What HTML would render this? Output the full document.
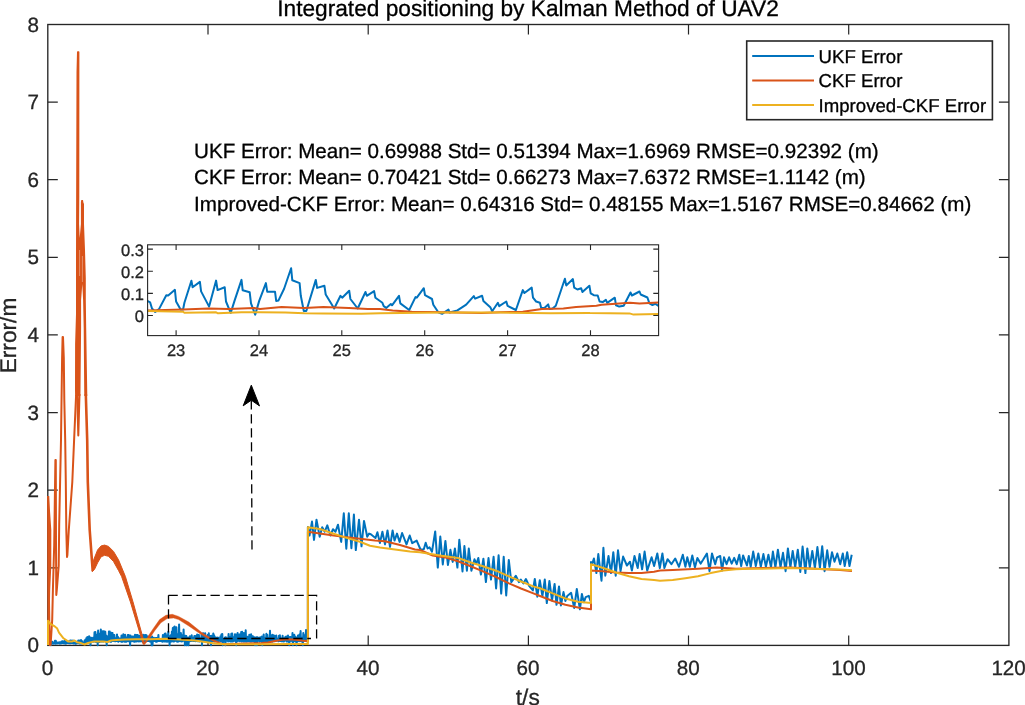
<!DOCTYPE html>
<html><head><meta charset="utf-8"><title>Integrated positioning by Kalman Method of UAV2</title>
<style>html,body{margin:0;padding:0;background:#fff;overflow:hidden}svg{display:block}</style></head>
<body>
<svg width="1025" height="705" viewBox="0 0 1025 705" font-family="'Liberation Sans', Arial, Helvetica, sans-serif" text-rendering="geometricPrecision">
<rect width="1025" height="705" fill="#fff"/>
<rect x="47.8" y="24.5" width="961.1" height="620.9" fill="none" stroke="#262626" stroke-width="1.35"/>
<path d="M208.0 645.4V635.4 M208.0 24.5V34.5 M368.2 645.4V635.4 M368.2 24.5V34.5 M528.4 645.4V635.4 M528.4 24.5V34.5 M688.5 645.4V635.4 M688.5 24.5V34.5 M848.7 645.4V635.4 M848.7 24.5V34.5 M47.8 567.8H57.8 M1008.9 567.8H998.9 M47.8 490.2H57.8 M1008.9 490.2H998.9 M47.8 412.6H57.8 M1008.9 412.6H998.9 M47.8 334.9H57.8 M1008.9 334.9H998.9 M47.8 257.3H57.8 M1008.9 257.3H998.9 M47.8 179.7H57.8 M1008.9 179.7H998.9 M47.8 102.1H57.8 M1008.9 102.1H998.9" stroke="#262626" stroke-width="1.2" fill="none"/>
<polyline fill="none" stroke="#0072BD" stroke-width="2" stroke-linejoin="round" points="48.6,641.1 49.1,643.6 49.5,641.3 50.0,643.3 50.4,641.3 50.9,645.2 51.3,642.0 51.8,643.7 52.2,641.8 52.7,643.4 53.1,642.5 53.6,643.6 54.0,642.5 54.5,643.2 54.9,640.8 55.4,643.8 55.8,640.8 56.3,643.5 56.7,642.6 57.2,643.5 57.6,642.5 58.1,643.2 58.5,642.5 59.0,643.3 59.4,642.2 59.9,643.6 60.3,642.8 60.8,643.4 61.2,641.7 61.7,643.3 62.1,641.3 62.6,643.1 63.0,641.3 63.5,643.3 63.9,641.7 64.4,643.1 64.8,640.8 65.3,643.7 65.7,641.2 66.2,643.6 66.6,641.2 67.1,643.1 67.5,642.7 68.0,642.9 68.4,641.5 68.9,643.1 69.3,641.5 69.8,643.3 70.2,640.6 70.7,643.3 71.1,640.6 71.6,643.1 72.0,642.6 72.5,643.0 72.9,640.4 73.4,643.4 73.8,642.6 74.3,643.3 74.7,642.6 75.2,643.7 75.6,642.4 76.1,643.6 76.5,642.3 77.0,642.9 77.4,641.5 77.9,643.3 78.3,640.5 78.8,642.9 79.2,640.5 79.7,643.4 80.1,641.5 80.6,643.6 81.0,639.9 81.5,643.6 81.9,641.1 82.4,643.2 82.8,642.4 83.3,643.4 83.7,642.3 84.2,642.8 84.6,640.5 85.1,643.3 85.5,639.5 86.0,643.4 86.4,638.1 86.9,642.3 87.3,637.0 87.8,642.4 88.2,638.1 88.7,642.4 89.1,636.2 89.6,642.0 90.0,637.3 90.5,645.2 90.9,638.1 91.4,641.9 91.8,637.8 92.3,641.1 92.7,638.5 93.2,641.7 93.6,637.6 94.1,641.6 94.5,632.3 95.0,641.0 95.4,632.1 95.9,641.9 96.3,634.6 96.8,641.7 97.2,635.6 97.7,645.2 98.1,630.5 98.6,641.5 99.0,633.6 99.5,642.0 99.9,633.4 100.4,641.1 100.8,629.4 101.3,641.6 101.7,635.5 102.2,641.2 102.6,631.2 103.1,641.6 103.5,631.2 104.0,641.0 104.4,631.4 104.9,641.1 105.3,631.7 105.8,641.7 106.2,635.5 106.7,645.2 107.1,636.2 107.6,641.7 108.0,636.3 108.5,641.5 108.9,631.5 109.4,641.0 109.8,631.5 110.3,641.7 110.7,637.3 111.2,641.7 111.6,632.7 112.1,641.1 112.5,632.9 113.0,641.1 113.4,634.7 113.9,641.0 114.3,634.9 114.8,641.2 115.2,638.0 115.7,641.2 116.1,638.0 116.6,641.0 117.0,634.4 117.5,641.0 117.9,636.8 118.4,641.8 118.8,638.3 119.3,641.0 119.7,638.4 120.2,641.1 120.6,638.4 121.1,641.6 121.5,635.6 122.0,641.9 122.4,638.6 122.9,641.3 123.3,634.2 123.8,641.5 124.2,634.9 124.7,641.7 125.1,634.8 125.6,641.7 126.0,637.2 126.5,641.7 126.9,637.8 127.4,641.0 127.8,634.9 128.3,641.3 128.7,635.0 129.2,641.0 129.6,635.7 130.1,645.2 130.5,635.4 131.0,641.5 131.4,639.0 131.9,641.1 132.3,636.5 132.8,641.2 133.2,636.5 133.7,641.4 134.1,637.4 134.6,641.8 135.0,634.8 135.5,641.6 135.9,634.9 136.4,641.4 136.8,634.9 137.3,641.0 137.7,635.0 138.2,641.4 138.6,635.8 139.1,641.2 139.5,636.3 140.0,641.4 140.4,635.4 140.9,641.0 141.3,635.4 141.8,641.3 142.2,637.9 142.7,641.7 143.1,634.7 143.6,641.4 144.0,638.0 144.5,641.8 144.9,635.0 145.4,641.0 145.8,635.1 146.3,641.2 146.7,635.4 147.2,641.0 147.6,638.1 148.0,640.9 148.5,636.7 148.9,640.9 149.4,636.7 149.8,641.4 150.3,638.5 150.7,641.7 151.2,637.6 151.6,645.2 152.1,636.5 152.5,645.2 153.0,637.7 153.4,641.2 153.9,637.7 154.3,640.9 154.8,639.1 155.2,640.9 155.7,638.1 156.1,641.8 156.6,638.1 157.0,641.7 157.5,638.1 157.9,641.0 158.4,634.9 158.8,640.9 159.3,638.7 159.7,641.1 160.2,639.2 160.6,641.1 161.1,639.0 161.5,640.9 162.0,638.9 162.4,641.8 162.9,634.9 163.3,641.0 163.8,638.8 164.2,641.5 164.7,633.7 165.1,641.6 165.6,633.5 166.0,641.6 166.5,635.3 166.9,641.8 167.4,637.1 167.8,641.5 168.3,631.7 168.7,641.5 169.2,636.2 169.6,645.2 170.1,635.9 170.5,641.8 171.0,634.9 171.4,641.6 171.9,631.6 172.3,640.9 172.8,628.1 173.2,641.4 173.7,627.2 174.1,641.4 174.6,626.4 175.0,640.8 175.5,627.4 175.9,641.0 176.4,627.2 176.8,641.4 177.3,634.4 177.7,641.7 178.2,633.9 178.6,641.5 179.1,624.4 179.5,641.0 180.0,634.4 180.4,641.1 180.9,633.1 181.3,641.5 181.8,634.9 182.2,641.3 182.7,635.6 183.1,640.8 183.6,629.5 184.0,640.8 184.5,636.3 184.9,645.2 185.4,635.7 185.8,641.3 186.3,636.1 186.7,645.2 187.2,637.7 187.6,641.7 188.1,637.6 188.5,645.2 189.0,637.5 189.4,641.5 189.9,636.2 190.3,641.0 190.8,636.3 191.2,640.9 191.7,635.3 192.1,640.8 192.6,637.5 193.0,641.0 193.5,639.0 193.9,640.9 194.4,635.9 194.8,641.0 195.3,635.9 195.7,641.2 196.2,638.4 196.6,640.9 197.1,634.5 197.5,641.2 198.0,635.1 198.4,641.1 198.9,634.9 199.3,641.6 199.8,638.7 200.2,640.9 200.7,638.2 201.1,641.1 201.6,634.4 202.0,645.2 202.5,633.4 202.9,641.0 203.4,633.3 203.8,641.1 204.3,634.9 204.7,641.5 205.2,633.3 205.6,641.5 206.1,637.0 206.5,641.0 207.0,636.9 207.4,641.3 207.9,634.7 208.3,641.0 208.8,633.3 209.2,641.1 209.7,637.1 210.1,641.5 210.6,635.9 211.0,645.2 211.5,635.8 211.9,641.5 212.4,637.7 212.8,641.0 213.3,633.4 213.7,641.2 214.2,635.3 214.6,641.6 215.1,637.3 215.5,640.7 216.0,637.5 216.4,641.3 216.9,638.8 217.3,640.7 217.8,637.5 218.2,641.5 218.7,637.9 219.1,641.1 219.6,637.9 220.0,640.7 220.5,636.2 220.9,641.2 221.4,634.5 221.8,641.0 222.3,634.1 222.7,645.2 223.2,639.1 223.6,641.2 224.1,639.1 224.5,641.6 225.0,637.4 225.4,645.2 225.9,637.3 226.3,640.9 226.8,638.4 227.2,640.8 227.7,638.4 228.1,641.4 228.6,633.9 229.0,640.7 229.5,636.7 229.9,641.3 230.4,637.2 230.8,641.6 231.3,633.7 231.7,641.4 232.2,633.5 232.6,641.4 233.1,637.0 233.5,641.3 234.0,637.3 234.4,640.8 234.9,634.3 235.3,640.8 235.8,634.7 236.2,645.2 236.7,634.5 237.1,641.2 237.6,633.0 238.0,641.0 238.5,637.8 238.9,640.7 239.4,634.5 239.8,641.3 240.3,634.3 240.7,640.7 241.2,631.9 241.6,641.4 242.1,631.7 242.5,641.3 243.0,635.6 243.4,641.4 243.9,632.9 244.3,641.4 244.8,633.5 245.2,641.2 245.7,630.2 246.1,641.6 246.6,636.9 247.0,641.5 247.5,636.8 247.9,641.1 248.4,637.2 248.8,641.2 249.3,634.8 249.7,641.3 250.2,636.5 250.6,641.6 251.1,634.3 251.5,641.5 252.0,636.1 252.4,640.8 252.9,636.2 253.3,641.4 253.8,638.0 254.2,640.7 254.7,637.2 255.1,645.2 255.6,639.3 256.0,640.9 256.5,637.3 256.9,645.2 257.4,637.3 257.8,640.7 258.3,637.8 258.7,640.8 259.2,638.5 259.6,641.5 260.1,637.3 260.5,640.9 261.0,637.4 261.4,641.0 261.9,636.6 262.3,645.2 262.8,637.3 263.2,640.8 263.7,634.4 264.1,641.0 264.6,638.2 265.0,641.3 265.5,637.9 265.9,641.5 266.4,633.8 266.8,641.0 267.3,634.8 267.7,641.4 268.2,638.2 268.6,641.3 269.1,638.1 269.5,640.9 270.0,630.8 270.4,641.4 270.9,635.0 271.3,640.6 271.8,636.6 272.2,641.6 272.7,634.8 273.1,641.2 273.6,635.4 274.0,640.7 274.5,635.8 274.9,641.2 275.4,639.1 275.8,640.9 276.3,635.4 276.7,640.8 277.2,638.4 277.6,640.6 278.1,638.4 278.5,641.3 279.0,635.7 279.4,640.8 279.9,635.3 280.3,641.1 280.8,638.6 281.2,641.1 281.7,638.7 282.1,641.4 282.6,635.8 283.0,640.6 283.5,638.8 283.9,641.5 284.4,638.2 284.8,640.7 285.3,636.9 285.7,640.6 286.2,636.4 286.6,641.4 287.1,637.9 287.5,641.5 288.0,635.5 288.4,641.2 288.9,637.3 289.3,645.2 289.8,637.0 290.2,641.2 290.7,637.1 291.1,640.6 291.6,637.8 292.0,641.2 292.5,633.0 292.9,645.2 293.4,635.0 293.8,641.2 294.3,634.8 294.7,641.2 295.2,636.6 295.6,641.1 296.1,637.7 296.5,645.2 297.0,637.5 297.4,641.5 297.9,635.6 298.3,640.8 298.8,635.3 299.2,641.2 299.7,634.2 300.1,640.9 300.6,631.0 301.0,641.2 301.5,637.6 301.9,640.8 302.4,637.8 302.8,645.2 303.3,633.0 303.7,641.0 304.2,635.5 304.6,640.6 305.1,635.0 305.5,641.1 306.0,630.1 306.4,641.3 306.9,631.4 307.3,640.7 307.9,640.0 307.9,527.0 309.5,535.5 312.0,521.6 314.0,539.9 316.5,519.7 319.7,536.8 322.2,527.3 324.7,531.7 327.3,525.4 330.4,535.5 333.0,529.2 335.5,531.7 338.0,524.7 341.2,541.9 343.8,513.3 346.3,548.8 348.8,513.3 351.4,548.2 353.9,514.6 355.8,550.1 359.0,519.7 361.5,546.3 364.0,520.9 367.2,536.8 369.1,533.6 370.8,534.2 375.5,538.0 377.4,532.3 379.9,543.1 382.4,531.7 385.0,544.4 387.5,530.4 390.0,546.9 392.6,530.4 394.5,540.6 397.0,533.6 399.6,541.9 402.1,533.0 406.5,544.4 409.7,535.5 412.2,543.1 416.7,540.6 420.5,549.5 423.8,549.2 425.7,542.8 427.6,548.5 429.5,547.3 432.0,551.7 435.2,531.4 437.8,567.6 440.3,536.5 442.8,564.4 445.4,540.9 447.9,565.0 450.4,549.8 452.7,561.9 454.9,548.5 457.4,567.6 459.3,539.7 462.5,571.4 464.4,546.0 466.9,570.7 468.8,548.5 471.4,570.7 474.5,559.3 476.4,563.8 478.3,558.0 480.9,574.5 483.4,558.7 485.9,582.1 488.5,558.0 491.0,579.6 493.6,556.8 496.1,588.5 498.6,555.3 501.2,593.6 503.7,556.8 506.2,595.5 508.8,559.9 511.3,582.1 515.8,575.8 518.9,582.1 520.8,579.6 523.4,583.4 525.9,579.0 529.1,585.9 532.9,590.4 534.8,579.0 537.3,596.7 539.8,580.2 542.4,596.1 544.8,579.5 546.8,603.1 549.4,580.9 552.0,600.4 554.6,583.9 556.5,604.8 559.0,586.4 560.9,605.5 563.5,592.1 565.4,601.0 567.3,595.9 571.1,592.8 574.2,608.0 576.8,589.0 579.9,609.3 581.9,594.0 583.8,602.3 585.7,597.2 588.8,595.9 590.5,601.0 591.0,601.0 591.0,562.0 592.0,564.2 593.9,558.5 596.4,573.1 598.3,554.1 601.5,580.7 603.4,547.8 605.3,575.7 608.5,556.0 611.0,573.1 613.3,552.2 615.7,575.7 618.0,550.3 620.5,571.2 623.1,556.6 626.9,565.5 630.0,561.7 631.9,570.6 634.5,556.0 637.7,568.0 639.6,554.1 642.1,569.3 644.6,551.6 647.2,570.6 651.6,557.3 654.1,566.1 657.3,553.5 659.8,568.0 662.4,553.5 664.4,568.0 667.6,559.2 671.4,564.2 675.2,558.5 679.0,566.8 682.8,554.7 685.4,566.8 687.3,557.3 689.8,566.8 692.3,555.4 694.9,567.4 697.4,557.9 700.6,563.6 703.1,559.8 706.9,553.5 709.5,571.2 712.0,553.5 715.2,564.2 717.1,557.3 720.2,556.0 722.1,570.6 724.0,557.3 726.6,564.2 729.1,557.3 731.7,563.6 734.2,557.9 736.7,564.2 739.3,554.7 741.2,566.1 743.1,555.4 746.9,565.5 748.8,556.0 750.7,566.8 753.2,551.6 755.8,566.1 758.3,553.5 760.8,566.8 763.4,554.1 765.9,566.8 768.4,554.7 771.0,567.4 772.9,551.6 775.4,567.4 777.9,549.7 780.5,567.4 783.0,552.8 785.6,571.2 787.9,548.4 790.4,567.4 792.7,550.9 795.2,567.4 797.8,549.7 800.3,571.9 802.6,546.5 805.4,573.1 807.3,548.4 809.8,567.4 812.3,550.9 814.9,568.0 817.4,547.1 819.9,568.0 822.2,546.2 824.6,571.2 827.2,550.3 829.5,566.8 832.0,552.2 834.5,561.7 837.3,553.5 840.2,564.2 842.8,553.5 844.7,566.1 847.2,552.2 849.5,566.1 851.7,554.7"/>
<polyline fill="none" stroke="#D95319" stroke-width="2" stroke-linejoin="round" points="48.2,496.0 48.8,590.0 49.7,645.0 50.6,645.0 52.2,620.0 52.9,590.0 54.2,545.0 55.4,460.0 55.8,460.0 56.0,545.0 56.3,595.0 56.8,590.0 58.7,566.0 59.2,524.0 60.1,482.0 61.0,440.0 62.1,358.0 62.6,337.0 63.0,337.0 63.8,358.0 64.3,400.0 65.2,440.0 65.8,482.0 66.3,530.0 67.0,557.0 67.4,555.0 68.8,530.0 72.3,482.0 74.1,440.0 76.1,395.0"/>
<polygon fill="#D95319" points="47.4,496.0 49.0,496.0 51.3,530.0 51.3,566.0 50.2,590.0 49.6,620.0 49.9,645.0 47.4,645.0"/>
<polygon fill="#D95319" points="75.1,396.0 75.0,390.0 75.1,344.0 76.0,314.0 76.0,260.0 76.1,210.0 76.5,72.0 77.0,51.8 77.6,51.2 78.8,51.2 79.4,51.8 79.3,196.0 79.1,224.0 79.7,238.0 80.9,224.0 80.9,202.0 81.3,200.0 83.0,200.0 83.4,202.5 84.0,204.0 84.0,224.0 85.0,250.0 85.8,278.0 85.8,300.0 86.2,328.0 87.2,390.0 87.3,396.0 84.3,396.0 84.2,390.0 83.7,328.0 83.1,300.0 82.3,284.0 81.1,300.0 81.1,328.0 80.5,390.0 80.4,396.0"/>
<path d="M79.6 250V276M82.4 256V282" stroke="#fff" stroke-opacity="0.45" stroke-width="0.8" fill="none"/>
<polyline fill="none" stroke="#D95319" stroke-width="2" stroke-linejoin="round" points="77.2,394.0 78.3,435.5 79.5,394.0"/>
<polyline fill="none" stroke="#D95319" stroke-width="2.6" stroke-linejoin="round" points="85.8,394.0 87.2,440.0 87.8,482.0 89.7,530.0 92.7,571.0"/>
<polygon fill="#D95319" stroke="#D95319" stroke-width="1" stroke-linejoin="round" points="93.7,559.8 97.6,549.9 101.1,545.9 104.6,545.1 108.5,546.4 113.5,551.4 118.5,559.8 125.4,576.5 133.0,601.9 144.6,643.7 143.2,644.3 130.4,601.9 121.6,576.5 118.5,570.5 113.5,561.5 108.5,556.3 104.6,555.3 101.1,556.8 97.6,562.8 94.6,569.2 92.2,571.8"/>
<polygon fill="#D95319" stroke="#D95319" stroke-width="0.4" stroke-linejoin="round" points="144.1,643.7 148.2,636.1 153.3,628.5 159.6,619.6 165.9,615.2 172.3,614.3 178.6,616.4 188.8,622.1 201.5,632.3 214.1,639.9 224.3,644.0 224.3,645.2 214.1,641.8 201.5,634.8 188.8,626.0 178.6,619.6 173.6,618.1 167.2,618.6 160.9,622.8 154.5,631.0 149.5,638.6 144.4,644.8"/>
<polyline fill="none" stroke="#D95319" stroke-width="2" stroke-linejoin="round" points="224.0,644.2 245.0,643.5 262.0,643.0 268.0,642.5 275.0,641.0 282.0,639.8 288.5,639.3 296.0,639.8 302.0,640.6 307.9,641.2 307.9,531.7 330.0,535.0 345.0,537.0 360.0,538.7 375.0,540.6 385.0,541.2 400.0,545.0 415.0,549.5 420.0,550.0 432.7,555.5 445.0,557.4 458.0,561.2 470.7,566.3 483.0,571.4 496.0,577.0 509.0,583.4 521.0,588.5 534.0,593.6 540.0,596.0 552.7,601.0 565.4,604.8 578.0,607.4 591.0,609.3 591.0,570.6 603.0,571.2 616.0,572.5 629.0,573.1 641.5,573.1 654.0,571.8 660.0,570.6 672.7,569.9 698.0,568.7 717.0,567.4 736.0,568.7 761.5,568.0 790.0,567.4 820.0,569.0 840.0,570.0 852.0,571.0"/>
<polyline fill="none" stroke="#EDB120" stroke-width="2" stroke-linejoin="round" points="48.0,645.0 48.0,620.7 50.4,623.8 54.8,626.4 57.0,628.2 59.0,632.6 63.5,638.3 68.0,641.4 72.3,641.4 74.5,640.5 77.0,642.2 81.0,643.1 84.6,644.5 88.0,643.0 94.3,641.4 103.0,641.4 107.5,642.0 111.0,640.5 116.0,640.0 125.0,639.6 136.0,639.2 150.0,639.2 165.0,638.8 180.0,639.5 195.0,640.5 205.0,642.0 215.0,643.5 225.0,644.3 260.0,644.3 290.0,644.0 307.9,644.0 307.9,527.3 320.0,529.0 330.0,532.5 345.0,537.4 360.0,541.8 370.0,545.7 380.0,547.6 395.0,549.5 410.0,551.4 420.0,552.3 440.0,555.5 458.0,558.0 470.7,562.5 483.0,566.3 496.0,570.7 509.0,576.4 521.0,581.5 534.0,586.6 540.0,588.3 552.7,593.4 565.4,598.5 578.0,601.7 591.0,603.0 591.0,564.2 603.4,568.0 616.0,572.5 629.0,576.3 641.5,579.0 654.0,580.1 660.0,580.7 672.7,580.1 685.4,578.2 698.0,576.3 710.7,573.1 723.4,570.6 736.0,569.3 749.0,568.7 761.5,568.7 790.0,568.0 820.0,569.0 840.0,569.5 852.0,570.3"/>
<text x="47.5" y="674.5" font-size="20.63" fill="#262626" text-anchor="middle" stroke="#262626" stroke-width="0.3">0</text>
<text x="207.7" y="674.5" font-size="20.63" fill="#262626" text-anchor="middle" stroke="#262626" stroke-width="0.3">20</text>
<text x="367.9" y="674.5" font-size="20.63" fill="#262626" text-anchor="middle" stroke="#262626" stroke-width="0.3">40</text>
<text x="528.1" y="674.5" font-size="20.63" fill="#262626" text-anchor="middle" stroke="#262626" stroke-width="0.3">60</text>
<text x="688.2" y="674.5" font-size="20.63" fill="#262626" text-anchor="middle" stroke="#262626" stroke-width="0.3">80</text>
<text x="848.4" y="674.5" font-size="20.63" fill="#262626" text-anchor="middle" stroke="#262626" stroke-width="0.3">100</text>
<text x="1008.6" y="674.5" font-size="20.63" fill="#262626" text-anchor="middle" stroke="#262626" stroke-width="0.3">120</text>
<text x="39" y="652.4" font-size="20.63" fill="#262626" text-anchor="end" stroke="#262626" stroke-width="0.3">0</text>
<text x="39" y="574.8" font-size="20.63" fill="#262626" text-anchor="end" stroke="#262626" stroke-width="0.3">1</text>
<text x="39" y="497.2" font-size="20.63" fill="#262626" text-anchor="end" stroke="#262626" stroke-width="0.3">2</text>
<text x="39" y="419.6" font-size="20.63" fill="#262626" text-anchor="end" stroke="#262626" stroke-width="0.3">3</text>
<text x="39" y="341.9" font-size="20.63" fill="#262626" text-anchor="end" stroke="#262626" stroke-width="0.3">4</text>
<text x="39" y="264.3" font-size="20.63" fill="#262626" text-anchor="end" stroke="#262626" stroke-width="0.3">5</text>
<text x="39" y="186.7" font-size="20.63" fill="#262626" text-anchor="end" stroke="#262626" stroke-width="0.3">6</text>
<text x="39" y="109.1" font-size="20.63" fill="#262626" text-anchor="end" stroke="#262626" stroke-width="0.3">7</text>
<text x="39" y="31.5" font-size="20.63" fill="#262626" text-anchor="end" stroke="#262626" stroke-width="0.3">8</text>
<text x="528" y="15.7" font-size="22.69" fill="#000" text-anchor="middle" stroke="#000" stroke-width="0.3">Integrated positioning by Kalman Method of UAV2</text>
<text x="527.8" y="705.1" font-size="22.69" fill="#262626" text-anchor="middle" stroke="#262626" stroke-width="0.3">t/s</text>
<text transform="translate(16.2,335.5) rotate(-90)" font-size="22.69" fill="#262626" text-anchor="middle" stroke="#262626" stroke-width="0.3">Error/m</text>
<text x="194.1" y="157.5" font-size="20.6" fill="#000" stroke="#000" stroke-width="0.3">UKF Error: Mean= 0.69988 Std= 0.51394 Max=1.6969 RMSE=0.92392 (m)</text>
<text x="194.1" y="183.9" font-size="20.6" fill="#000" stroke="#000" stroke-width="0.3">CKF Error: Mean= 0.70421 Std= 0.66273 Max=7.6372 RMSE=1.1142 (m)</text>
<text x="194.1" y="210.7" font-size="20.6" fill="#000" stroke="#000" stroke-width="0.3">Improved-CKF Error: Mean= 0.64316 Std= 0.48155 Max=1.5167 RMSE=0.84662 (m)</text>
<rect x="746.7" y="41" width="245.7" height="78.7" fill="#fff" stroke="#262626" stroke-width="1.6"/>
<path d="M752.2 56.0H814" stroke="#0072BD" stroke-width="2"/>
<text x="818.6" y="62.6" font-size="18.62" fill="#000" stroke="#000" stroke-width="0.3">UKF Error</text>
<path d="M752.2 80.4H814" stroke="#D95319" stroke-width="2"/>
<text x="818.6" y="87.0" font-size="18.62" fill="#000" stroke="#000" stroke-width="0.3">CKF Error</text>
<path d="M752.2 105.0H814" stroke="#EDB120" stroke-width="2"/>
<text x="818.6" y="111.6" font-size="18.62" fill="#000" stroke="#000" stroke-width="0.3">Improved-CKF Error</text>
<rect x="147.6" y="244.8" width="511.0" height="90.8" fill="#fff"/>
<polyline fill="none" stroke="#0072BD" stroke-width="2" stroke-linejoin="round" points="147.4,300.9 150.1,302.4 152.0,308.5 155.2,312.0 159.0,309.1 166.3,295.2 168.2,295.5 174.9,289.8 176.1,301.5 180.6,309.5 183.1,309.5 184.4,302.8 191.4,280.8 192.6,287.3 199.9,281.9 201.1,291.4 209.1,306.6 216.1,280.6 217.6,290.1 224.7,287.2 226.0,301.5 230.7,312.9 234.5,300.9 241.5,279.9 242.7,290.3 249.7,292.3 251.0,303.4 255.2,314.6 259.2,300.9 265.9,283.1 267.2,291.7 267.6,291.7 275.0,291.7 276.2,300.9 278.4,300.6 284.1,288.8 291.1,268.2 292.3,280.3 299.6,283.1 300.8,295.8 303.8,311.0 306.3,311.0 315.8,279.9 317.1,287.9 324.4,285.7 325.7,294.5 334.2,308.5 340.5,295.8 342.2,297.7 349.2,290.7 350.4,299.0 357.7,308.5 365.5,292.0 366.8,295.8 374.1,291.1 375.4,297.7 382.4,302.8 383.7,306.2 386.2,307.9 390.8,304.0 392.0,305.3 399.0,295.8 400.3,303.4 409.2,310.0 415.5,297.1 416.8,297.7 423.8,288.2 425.0,295.2 432.0,299.0 433.3,304.7 438.3,312.3 442.1,313.8 448.5,309.5 449.5,312.5 457.4,310.4 466.2,304.7 473.8,296.1 475.1,298.6 482.1,295.8 483.4,300.9 490.3,307.2 492.2,311.3 497.9,302.8 499.2,306.2 506.3,301.5 507.6,305.9 515.9,310.0 522.8,290.1 524.4,293.0 531.7,287.6 533.0,297.7 536.1,301.5 539.9,302.8 541.2,307.9 544.4,307.9 548.2,304.4 549.5,309.1 552.6,308.5 555.8,305.7 564.9,278.7 566.2,285.4 572.9,279.1 574.2,287.6 577.4,289.5 581.2,288.2 582.4,292.0 589.4,285.7 590.7,293.3 593.8,295.2 597.7,295.5 599.6,301.5 602.7,302.1 605.9,299.9 607.2,302.8 614.8,297.7 616.0,305.3 619.2,306.6 623.7,305.7 630.5,292.5 631.9,295.5 639.5,291.5 640.7,294.5 647.4,297.5 649.4,303.4 652.4,305.0 655.4,303.8 658.5,305.8"/>
<polyline fill="none" stroke="#D95319" stroke-width="2" stroke-linejoin="round" points="147.4,310.4 183.1,309.5 208.5,308.5 228.8,309.1 254.1,307.9 260.0,309.1 281.6,307.0 304.4,307.9 323.4,307.0 348.8,307.9 367.8,309.1 380.0,309.1 392.7,310.4 411.7,311.7 443.4,312.3 481.5,312.9 500.0,312.3 522.8,311.7 541.9,309.1 563.4,308.5 576.1,307.0 596.4,305.7 601.5,304.7 630.0,302.8 639.5,303.4 658.5,302.6"/>
<polyline fill="none" stroke="#EDB120" stroke-width="2" stroke-linejoin="round" points="147.4,311.0 183.1,311.7 184.4,312.7 216.1,312.3 218.0,313.3 241.5,312.3 260.0,312.3 285.4,312.5 304.4,313.3 323.4,313.6 361.5,313.8 380.0,313.3 443.4,312.5 500.0,312.5 550.7,313.3 588.8,312.9 589.8,313.0 629.5,313.4 633.5,314.6 658.5,314.0"/>
<rect x="147.6" y="244.8" width="511.0" height="90.8" fill="none" stroke="#262626" stroke-width="1.1"/>
<text x="176.1" y="355.6" font-size="16.5" fill="#262626" text-anchor="middle" stroke="#262626" stroke-width="0.3">23</text>
<text x="259.0" y="355.6" font-size="16.5" fill="#262626" text-anchor="middle" stroke="#262626" stroke-width="0.3">24</text>
<text x="341.8" y="355.6" font-size="16.5" fill="#262626" text-anchor="middle" stroke="#262626" stroke-width="0.3">25</text>
<text x="424.7" y="355.6" font-size="16.5" fill="#262626" text-anchor="middle" stroke="#262626" stroke-width="0.3">26</text>
<text x="507.6" y="355.6" font-size="16.5" fill="#262626" text-anchor="middle" stroke="#262626" stroke-width="0.3">27</text>
<text x="590.5" y="355.6" font-size="16.5" fill="#262626" text-anchor="middle" stroke="#262626" stroke-width="0.3">28</text>
<text x="144.0" y="321.9" font-size="16.5" fill="#262626" text-anchor="end" stroke="#262626" stroke-width="0.3">0</text>
<text x="144.0" y="299.8" font-size="16.5" fill="#262626" text-anchor="end" stroke="#262626" stroke-width="0.3">0.1</text>
<text x="144.0" y="277.6" font-size="16.5" fill="#262626" text-anchor="end" stroke="#262626" stroke-width="0.3">0.2</text>
<text x="144.0" y="255.5" font-size="16.5" fill="#262626" text-anchor="end" stroke="#262626" stroke-width="0.3">0.3</text>
<path d="M176.1 335.6V330.3 M176.1 244.8V250.1 M259.0 335.6V330.3 M259.0 244.8V250.1 M341.8 335.6V330.3 M341.8 244.8V250.1 M424.7 335.6V330.3 M424.7 244.8V250.1 M507.6 335.6V330.3 M507.6 244.8V250.1 M590.5 335.6V330.3 M590.5 244.8V250.1 M147.6 315.5H152.9 M658.6 315.5H653.3 M147.6 293.4H152.9 M658.6 293.4H653.3 M147.6 271.2H152.9 M658.6 271.2H653.3 M147.6 249.1H152.9 M658.6 249.1H653.3" stroke="#262626" stroke-width="1.1" fill="none"/>
<path d="M168.5 595.3H316.6V638.5" fill="none" stroke="#000" stroke-width="1.3" stroke-dasharray="9.3 4.7"/>
<path d="M168.5 595.3V638.5H311" fill="none" stroke="#000" stroke-width="1.3" stroke-dasharray="9.3 4.7"/>
<path d="M252 549.5L251.3 400" fill="none" stroke="#000" stroke-width="1.3" stroke-dasharray="9.3 4.7"/>
<path d="M251.3 385.2L259.5 405.9L251.3 400.2L243.2 405.8Z" fill="#000" stroke="#000" stroke-width="1" stroke-linejoin="round"/>
</svg>
</body></html>
